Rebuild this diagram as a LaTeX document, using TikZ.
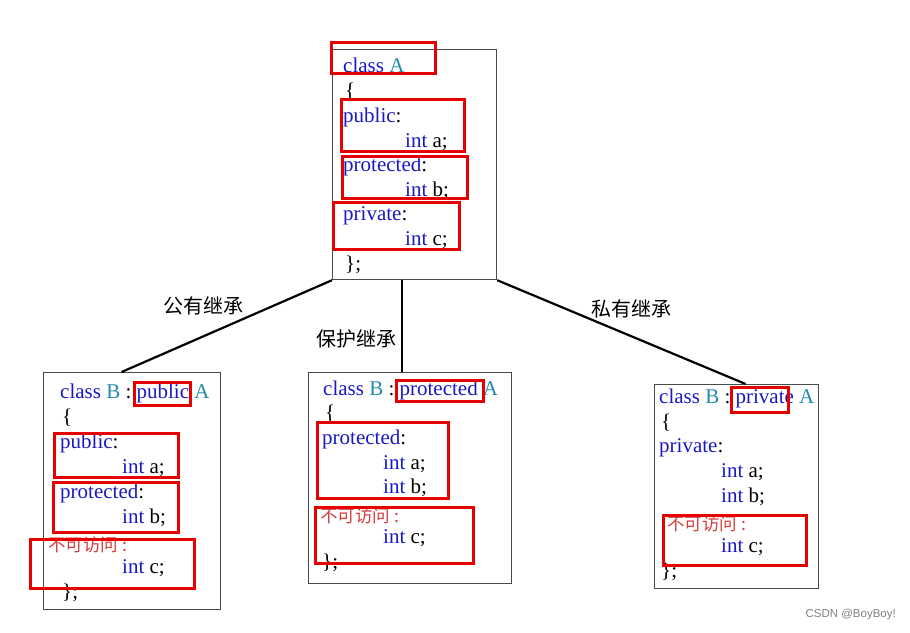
\documentclass[tikz,border=0pt]{standalone}
\usepackage{fontspec}
\setmainfont{Liberation Serif}
\newfontfamily\cjkfont{Noto Sans CJK SC}
\newfontfamily\markfont{Liberation Sans}
\definecolor{kwblue}{RGB}{25,25,195}
\definecolor{nameteal}{RGB}{35,140,170}
\definecolor{hired}{RGB}{230,0,0}
\definecolor{noaccess}{RGB}{215,60,60}
\definecolor{boxgray}{RGB}{75,75,75}
\newcommand{\kw}[1]{\textcolor{kwblue}{#1}}
\newcommand{\cn}[1]{\textcolor{nameteal}{#1}}
\tikzset{
  code/.style={anchor=base west, inner sep=0pt, font=\fontsize{21}{25}\selectfont},
  noacc/.style={anchor=base west, inner sep=0pt, text=noaccess, font=\cjkfont\fontsize{17.5}{20}\selectfont},
  clsbox/.style={draw=boxgray, line width=1.2pt, anchor=north west, inner sep=0pt},
  hl/.style={draw=hired, line width=3pt},
  inherit/.style={line width=2.2pt},
  kind/.style={font=\cjkfont\fontsize{20}{22}\selectfont, inner sep=0pt}
}
\begin{document}
\begin{tikzpicture}[x=1pt, y=-1pt]
\useasboundingbox (0,0) rectangle (910,632);

% base class
\node[clsbox, minimum width=164pt, minimum height=230pt] (A) at (332,49) {};
\node[code] (Ahead) at (343,72) {\kw{class} \cn{A}};
\node[code] (Aopen) at (345,97) {\{};
\node[code] (Apub) at (343,122) {\kw{public}:};
\node[code] (Aa) at (405,147) {\kw{int} a;};
\node[code] (Apro) at (343,171) {\kw{protected}:};
\node[code] (Ab) at (405,196) {\kw{int} b;};
\node[code] (Apri) at (343,220) {\kw{private}:};
\node[code] (Ac) at (405,245) {\kw{int} c;};
\node[code] (Aclose) at (345,270) {\};};

% public inheritance
\node[clsbox, minimum width=177pt, minimum height=237pt] (B1) at (43,372) {};
\node[code] (Bhead) at (60,398) {\kw{class} \cn{B} : \kw{public} \cn{A}};
\node[code] (Bopen) at (62,423) {\{};
\node[code] (Bpub) at (60,448) {\kw{public}:};
\node[code] (Ba) at (122,473) {\kw{int} a;};
\node[code] (Bpro) at (60,498) {\kw{protected}:};
\node[code] (Bb) at (122,523) {\kw{int} b;};
\node[noacc] (Bno) at (48,551) {不可访问 :};
\node[code] (Bc) at (122,573) {\kw{int} c;};
\node[code] (Bclose) at (62,598) {\};};

% protected inheritance
\node[clsbox, minimum width=203pt, minimum height=211pt] (B2) at (308,372) {};
\node[code] (Chead) at (323,395) {\kw{class} \cn{B} : \kw{protected} \cn{A}};
\node[code] (Copen) at (325,419) {\{};
\node[code] (Cpro) at (322,444) {\kw{protected}:};
\node[code] (Ca) at (383,469) {\kw{int} a;};
\node[code] (Cb) at (383,493) {\kw{int} b;};
\node[noacc] (Cno) at (320,522) {不可访问 :};
\node[code] (Cc) at (383,543) {\kw{int} c;};
\node[code] (Cclose) at (322,568) {\};};

% private inheritance
\node[clsbox, minimum width=164pt, minimum height=204pt] (B3) at (654,384) {};
\node[code] (Dhead) at (659,403) {\kw{class} \cn{B} : \kw{private} \cn{A}};
\node[code] (Dopen) at (661,428) {\{};
\node[code] (Dpri) at (659,452) {\kw{private}:};
\node[code] (Da) at (721,477) {\kw{int} a;};
\node[code] (Db) at (721,502) {\kw{int} b;};
\node[noacc] (Dno) at (667,530) {不可访问 :};
\node[code] (Dc) at (721,552) {\kw{int} c;};
\node[code] (Dclose) at (661,577) {\};};

% highlights
\draw[hl] (331,42) rectangle (435,73);
\draw[hl] (341,99) rectangle (464,151);
\draw[hl] (342,156) rectangle (467,198);
\draw[hl] (333,202) rectangle (459,249);
\draw[hl] (134,382) rectangle (190,405);
\draw[hl] (54,433) rectangle (178,477);
\draw[hl] (53,482) rectangle (178,532);
\draw[hl] (30,539) rectangle (194,588);
\draw[hl] (396,380) rectangle (483,401);
\draw[hl] (317,422) rectangle (448,498);
\draw[hl] (315,507) rectangle (473,563);
\draw[hl] (731,387) rectangle (788,412);
\draw[hl] (663,515) rectangle (806,565);

\draw[inherit] (A.south west) -- ([xshift=-10.5pt]B1.north);
\draw[inherit] ([xshift=-13pt]A.south) -- ([xshift=-8.5pt]B2.north);
\draw[inherit] (A.south east) -- ([xshift=9pt]B3.north);

\node[kind] (pubinh) at (203,306) {公有继承};
\node[kind] (protinh) at (356,339) {保护继承};
\node[kind] (privinh) at (631,309) {私有继承};

\node[font=\markfont\fontsize{11.5}{13}\selectfont, text=gray, anchor=east, inner sep=0pt] (mark) at (896,615) {CSDN @BoyBoy!};
\end{tikzpicture}
\end{document}
